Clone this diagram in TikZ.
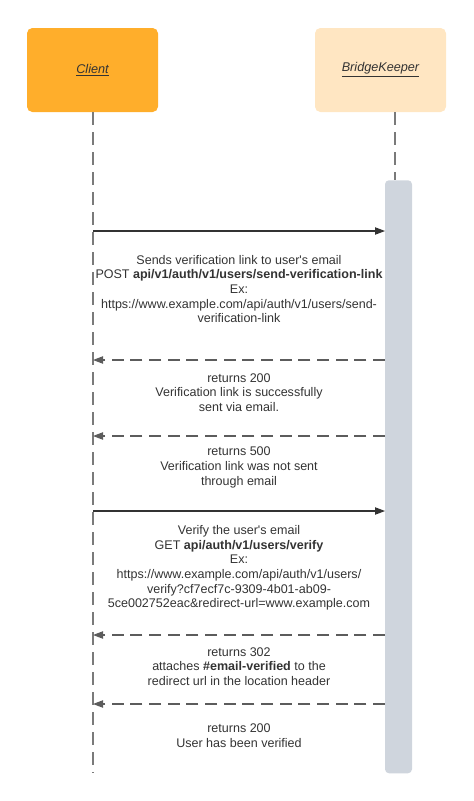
\documentclass[tikz,border=0pt]{standalone}
\usepackage{fontspec}
\setmainfont{Liberation Sans}
\usetikzlibrary{arrows.meta}
\definecolor{clientc}{HTML}{FFAE2B}
\definecolor{bkc}{HTML}{FFE6C2}
\definecolor{actc}{HTML}{CFD5DD}
\definecolor{txtc}{HTML}{333333}
\definecolor{linec}{HTML}{7A7A7A}
\tikzset{
  actor/.style={draw=none, rounded corners=4pt, minimum width=98.25pt, minimum height=63pt, inner sep=0pt,
    font=\fontsize{9.5}{11}\selectfont\itshape, text=txtc},
  lifeline/.style={draw=linec, line width=0.9pt, dash pattern=on 10pt off 5pt},
  callmsg/.style={draw=txtc, line width=0.8pt, -{Triangle[length=7.5pt,width=5.5pt]}},
  retmsg/.style={draw=txtc!80, line width=0.8pt, dash pattern=on 9pt off 5pt, -{Triangle[length=7.5pt,width=5.5pt]}},
  msgtext/.style={align=center, inner sep=0pt, text=txtc, font=\fontsize{9.4}{11}\selectfont},
}
\begin{document}
\begin{tikzpicture}[x=0.75pt,y=-0.75pt]
\useasboundingbox (0,0) rectangle (474,801);
% actors
\node[actor, fill=clientc] (client) at (92.5,70) {\underline{Client}};
\node[actor, fill=bkc] (bk) at (380.5,70) {\underline{BridgeKeeper}};
% lifeline ends
\coordinate (cend) at (93,773);
\coordinate (bkend) at (395,180);
\draw[lifeline] (93,112) -- (cend);
\draw[lifeline] (395,112) -- (bkend);
% activation
\node[draw=none, fill=actc, rounded corners=3pt, minimum width=20.25pt, minimum height=444.75pt, inner sep=0pt, anchor=north] (act) at (398.5,180) {};
% message endpoints
\foreach \n/\y in {1/231,2/360,3/436,4/511,5/635,6/704}{
  \coordinate (c\n) at (93,\y);
  \coordinate (a\n) at (385,\y);
}
\draw[callmsg] (c1) -- (a1);
\draw[retmsg] (a2) -- (c2);
\draw[retmsg] (a3) -- (c3);
\draw[callmsg] (c4) -- (a4);
\draw[retmsg] (a5) -- (c5);
\draw[retmsg] (a6) -- (c6);
% texts
\node[msgtext] (t1) at (239,289) {Sends verification link to user\textquotesingle s email\\POST \textbf{api/v1/auth/v1/users/send-verification-link}\\Ex:\\https://www.example.com/api/auth/v1/users/send-\\verification-link};
\node[msgtext] (t2) at (239,392.5) {returns 200\\Verification link is successfully\\sent via email.};
\node[msgtext] (t3) at (239,467.5) {returns 500\\Verification link was not sent\\through email};
\node[msgtext] (t4) at (239,568) {Verify the user\textquotesingle s email\\GET \textbf{api/auth/v1/users/verify}\\Ex:\\https://www.example.com/api/auth/v1/users/\\verify?cf7ecf7c-9309-4b01-ab09-\\5ce002752eac\&redirect-url=www.example.com};
\node[msgtext] (t5) at (239,666.5) {returns 302\\attaches \textbf{\#email-verified} to the\\redirect url in the location header};
\node[msgtext] (t6) at (239,735.5) {returns 200\\User has been verified};
\end{tikzpicture}
\end{document}
